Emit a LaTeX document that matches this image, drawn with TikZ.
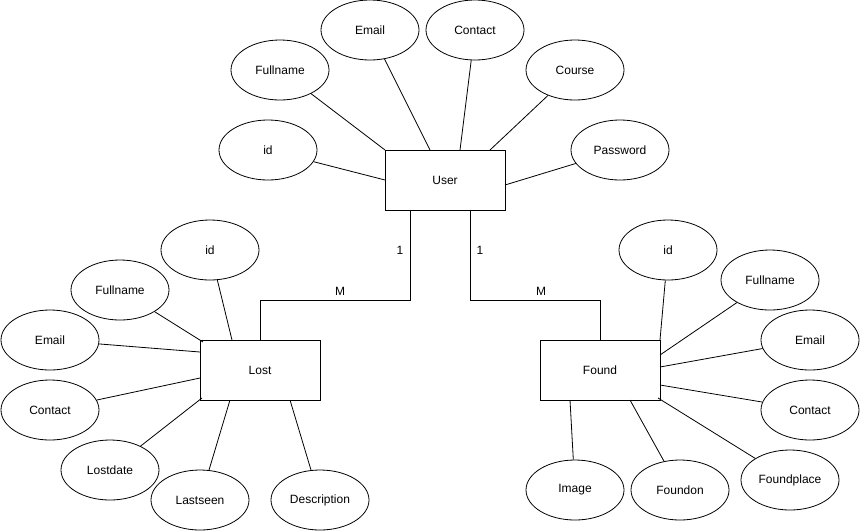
\documentclass[tikz,border=0pt]{standalone}
\usepackage{fontspec}
\setmainfont{Liberation Sans}
\usetikzlibrary{shapes.geometric}
\begin{document}
\begin{tikzpicture}[x=1pt,y=-1pt,
  attr/.style={ellipse,draw,line width=0.8pt,minimum width=98pt,minimum height=60pt,inner sep=0pt,font=\fontsize{12}{14}\selectfont},
  ent/.style={rectangle,draw,line width=0.8pt,minimum width=120pt,minimum height=60pt,inner sep=0pt,font=\fontsize{12}{14}\selectfont},
  lbl/.style={font=\fontsize{12}{14}\selectfont,inner sep=0pt},
  every path/.style={line width=0.8pt}]
\useasboundingbox (0,0) rectangle (861,531);
\node[ent] (user) at (445,180) {User};
\node[ent] (lost) at (260,370) {Lost};
\node[ent] (found) at (600,370) {Found};
% user attrs
\node[attr] (uid) at (268,150) {id};
\node[attr] (ufn) at (280,70) {Fullname};
\node[attr] (uem) at (370,30) {Email};
\node[attr] (uco) at (475,30) {Contact};
\node[attr] (ucr) at (575,70) {Course};
\node[attr] (upw) at (620,150) {Password};
\coordinate (u1) at (385,180); \coordinate (u2) at (385,150);
\coordinate (u3) at (430,150); \coordinate (u4) at (460,150);
\coordinate (u5) at (490,150); \coordinate (u6) at (505,185);
\draw (uid) -- (u1); \draw (ufn) -- (u2); \draw (uem) -- (u3);
\draw (uco) -- (u4); \draw (ucr) -- (u5); \draw (upw) -- (u6);
% lost attrs
\node[attr] (lid) at (210,250) {id};
\node[attr] (lfn) at (120,290) {Fullname};
\node[attr] (lem) at (50,340) {Email};
\node[attr] (lco) at (50,410) {Contact};
\node[attr] (lld) at (110,470) {Lostdate};
\node[attr] (lls) at (200,500) {Lastseen};
\node[attr] (lde) at (320,500) {Description};
\coordinate (l1) at (232,340); \coordinate (l2) at (203,342);
\coordinate (l3) at (200,352); \coordinate (l4) at (200,378);
\coordinate (l5) at (202,398); \coordinate (l6) at (230,400);
\coordinate (l7) at (290,400);
\draw (lid) -- (l1); \draw (lfn) -- (l2); \draw (lem) -- (l3);
\draw (lco) -- (l4); \draw (lld) -- (l5); \draw (lls) -- (l6); \draw (lde) -- (l7);
% found attrs
\node[attr] (fid) at (668,250) {id};
\node[attr] (ffn) at (770,280) {Fullname};
\node[attr] (fem) at (810,340) {Email};
\node[attr] (fco) at (810,410) {Contact};
\node[attr] (ffp) at (790,480) {Foundplace};
\node[attr] (ffo) at (680,490) {Foundon};
\node[attr] (fim) at (575,490) {Image};
\coordinate (f1) at (660,340); \coordinate (f2) at (660,355);
\coordinate (f3) at (660,367); \coordinate (f4) at (660,385);
\coordinate (f5) at (658,398); \coordinate (f6) at (630,400);
\coordinate (f7) at (570,400);
\draw (fid) -- (f1); \draw (ffn) -- (f2); \draw (fem) -- (f3);
\draw (fco) -- (f4); \draw (ffp) -- (f5); \draw (ffo) -- (f6); \draw (fim) -- (f7);
% relationships
\coordinate (r1) at (410,210); \coordinate (r2) at (470,210);
\draw (r1) |- (260,300) -- (lost.north);
\draw (r2) |- (600,300) -- (found.north);
\node[lbl] (one1) at (400,250) {1};
\node[lbl] (m1) at (340,291) {M};
\node[lbl] (one2) at (480,250) {1};
\node[lbl] (m2) at (541,291) {M};
\end{tikzpicture}
\end{document}
